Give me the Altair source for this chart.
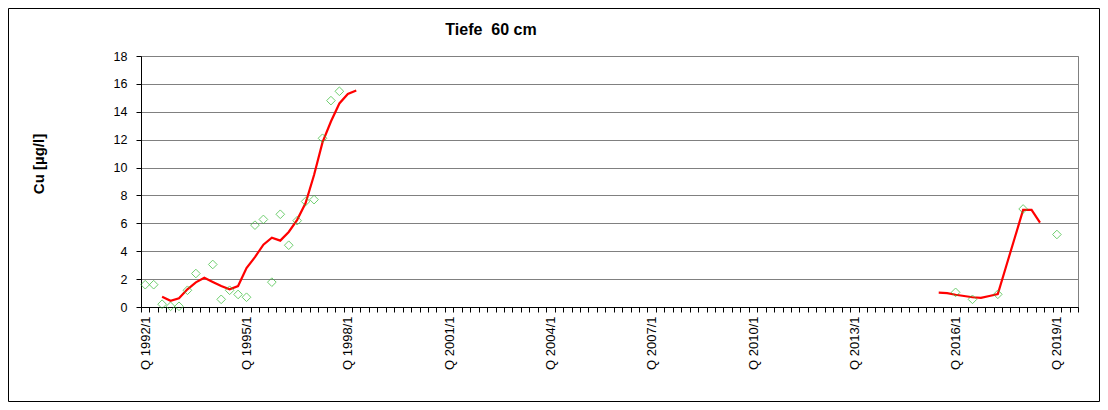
import altair as alt
import pandas as pd

FONT = "Arial, Liberation Sans, sans-serif"

# Category axis: quarters 1992/1 .. 2019/3
years = list(range(1992, 2020))
quarters = [f"Q {y}/{q}" for y in years for q in (1, 2, 3, 4)][:111]
labeled_quarters = ["Q 1992/1", "Q 1995/1", "Q 1998/1", "Q 2001/1", "Q 2004/1",
                    "Q 2007/1", "Q 2010/1", "Q 2013/1", "Q 2016/1", "Q 2019/1"]

# Measured values (green diamonds)
pt_quarters = ["Q 1992/1", "Q 1992/2", "Q 1992/3", "Q 1992/4", "Q 1993/1", "Q 1993/2",
               "Q 1993/3", "Q 1994/1", "Q 1994/2", "Q 1994/3", "Q 1994/4", "Q 1995/1",
               "Q 1995/2", "Q 1995/3", "Q 1995/4", "Q 1996/1", "Q 1996/2", "Q 1996/3",
               "Q 1996/4", "Q 1997/1", "Q 1997/2", "Q 1997/3", "Q 1997/4",
               "Q 2016/1", "Q 2016/3", "Q 2017/2", "Q 2018/1", "Q 2019/1"]
pt_values = [1.6, 1.6, 0.2, 0.05, 0.05, 1.2,
             2.4, 3.05, 0.55, 1.2, 0.9, 0.7,
             5.87, 6.28, 1.78, 6.65, 4.43, 6.19,
             7.57, 7.7, 12.1, 14.8, 15.47,
             1.05, 0.55, 0.91, 7.03, 5.2]

# Smoothed trend (red line), two segments
line_quarters = ["Q 1992/3", "Q 1992/4", "Q 1993/1", "Q 1993/2", "Q 1993/3", "Q 1993/4",
                 "Q 1994/1", "Q 1994/2", "Q 1994/3", "Q 1994/4", "Q 1995/1", "Q 1995/2",
                 "Q 1995/3", "Q 1995/4", "Q 1996/1", "Q 1996/2", "Q 1996/3", "Q 1996/4",
                 "Q 1997/1", "Q 1997/2", "Q 1997/3", "Q 1997/4", "Q 1998/1", "Q 1998/2",
                 "Q 2015/3", "Q 2015/4", "Q 2016/1", "Q 2016/2", "Q 2016/3", "Q 2016/4",
                 "Q 2017/1", "Q 2017/2", "Q 2017/3", "Q 2017/4", "Q 2018/1", "Q 2018/2",
                 "Q 2018/3"]
line_values = [0.74, 0.45, 0.62, 1.27, 1.77, 2.1,
               1.8, 1.5, 1.27, 1.5, 2.8, 3.58,
               4.47, 4.97, 4.76, 5.38, 6.25, 7.45,
               9.47, 11.8, 13.3, 14.6, 15.28, 15.52,
               1.03, 1.0, 0.88, 0.79, 0.7, 0.65,
               0.79, 0.93, 2.94, 4.95, 6.96, 6.96,
               6.05]
line_segment = [1] * 24 + [2] * 13

y_ticks = [0, 2, 4, 6, 8, 10, 12, 14, 16, 18]

pts = pd.DataFrame({"q": pt_quarters, "v": pt_values,
                    "idx": [quarters.index(q) for q in pt_quarters]})
lns = pd.DataFrame({"q": line_quarters, "v": line_values, "seg": line_segment,
                    "idx": [quarters.index(q) for q in line_quarters]})

W, H = 937, 251
PAD = {"left": 133, "top": 48, "right": 22, "bottom": 95}

label_list = "[" + ",".join(f"'{s}'" for s in labeled_quarters) + "]"

x_enc = alt.X(
    "q:N",
    scale=alt.Scale(type="band", domain=quarters, paddingInner=0, paddingOuter=0),
    axis=alt.Axis(
        title=None,
        labelExpr=f"indexof({label_list}, datum.value) >= 0 ? datum.value : ''",
        labelAngle=-90, labelOverlap=False, tickBand="extent",
        tickSize=5, labelPadding=4, labelFontSize=13, labelFont=FONT,
        labelColor="black", domainColor="black", tickColor="black", grid=False,
    ),
)
y_enc = alt.Y(
    "v:Q",
    scale=alt.Scale(domain=[0, 18], nice=False, zero=True),
    axis=alt.Axis(
        title=None, values=y_ticks, tickSize=5, labelPadding=9,
        labelFontSize=12.5, labelFont=FONT, labelColor="black",
        domainColor="black", tickColor="black",
        grid=True, gridColor="#808080", gridWidth=1,
    ),
)

line = alt.Chart(lns).mark_line(color="#FF0000", strokeWidth=2.2).encode(
    x=x_enc, y=y_enc, detail="seg:N", order="idx:Q"
)
points = alt.Chart(pts).mark_point(
    shape="diamond", filled=False, color="#33BB33", size=75, strokeWidth=1
).encode(x=x_enc, y=y_enc)

title = alt.Chart(alt.Data(values=[{"t": "Tiefe\u00a0 60 cm"}])).mark_text(
    font=FONT, fontSize=16, fontWeight="bold", color="black",
    align="center", baseline="middle"
).encode(x=alt.value(350), y=alt.value(-26), text="t:N")

ytitle = alt.Chart(alt.Data(values=[{"t": "Cu [µg/l]"}])).mark_text(
    font=FONT, fontSize=15, fontWeight="bold", color="black",
    align="center", baseline="middle", angle=270
).encode(x=alt.value(-102), y=alt.value(108), text="t:N")

frame = alt.Chart(alt.Data(values=[{}])).mark_rect(
    fill=None, stroke="black", strokeWidth=1, clip=False
).encode(
    x=alt.value(-PAD["left"] + 0.5), x2=alt.value(W + PAD["right"] - 0.5),
    y=alt.value(-PAD["top"] + 0.5), y2=alt.value(H + PAD["bottom"] - 0.5),
)

chart = alt.layer(frame, line, points, title, ytitle).properties(
    width=W, height=H, autosize=alt.AutoSizeParams(type="none"), padding=PAD,
    background="white",
).configure_view(stroke="#808080", strokeWidth=1)

chart.save("out.html", embed_options={"renderer": "svg", "actions": False})
